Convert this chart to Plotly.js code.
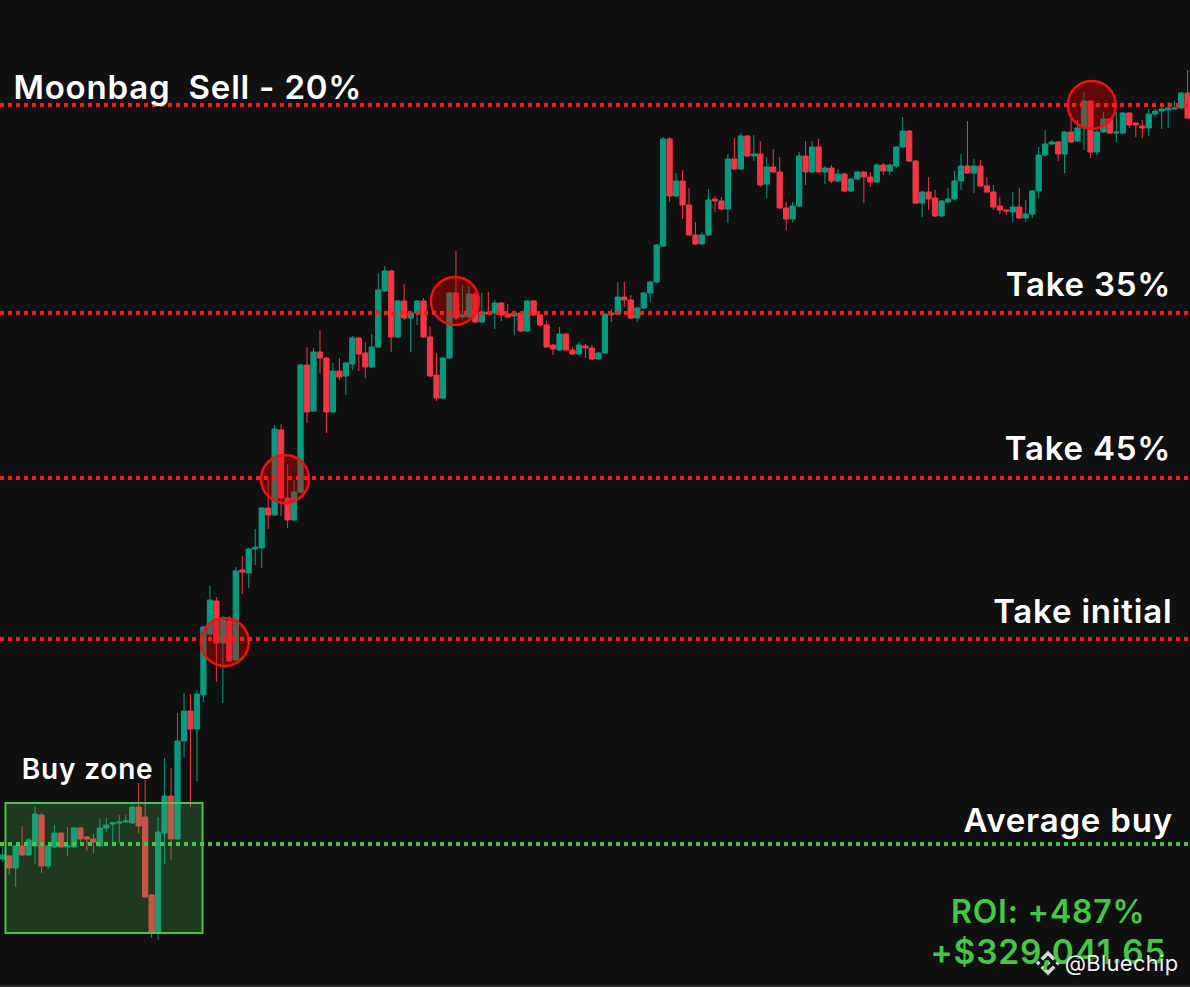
<!DOCTYPE html>
<html>
<head>
<meta charset="utf-8">
<script src="https://cdn.plot.ly/plotly-3.0.1.min.js"></script>
<style>
  html, body { margin: 0; padding: 0; background: #101010; }
  #chart { width: 1190px; height: 987px; }
  #chart .annotation-text { letter-spacing: 0.8px; }
  #chart .annotation[data-index="8"] .annotation-text { letter-spacing: 0.3px; }
</style>
</head>
<body>
<div id="chart"></div>
<script>
// OHLC series, one entry per candle (oldest first)
const openPrice = [
  141,144,132,154,145,154,185,134,153,167,153,153,172,163,161,154,172,176,177,178,
  177,193,183,105,68,167,204,161,259,289,271,305,366,399,357,379,340,430,427,451,
  452,492,485,570,502,480,508,635,589,648,642,588,629,624,636,662,647,633,653,709,
  729,663,699,682,687,699,663,625,602,642,707,683,683,706,678,688,687,697,686,684,
  687,669,699,685,675,655,650,666,650,646,654,652,641,647,687,686,703,700,682,692,
  707,718,754,861,804,819,795,765,756,765,801,799,791,841,831,864,844,846,816,833,
  828,792,781,794,844,828,853,828,832,819,826,809,821,828,823,818,835,829,834,853,
  869,839,797,808,802,784,798,801,819,834,827,834,814,808,794,790,788,793,782,786,
  809,845,856,858,846,868,859,872,899,848,868,881,867,867,887,877,874,872,886,889,
  890,891,892,907
];
const highPrice = [
  155,145,155,174,162,194,187,155,175,168,173,173,173,164,166,181,182,178,185,185,
  194,217,220,106,183,242,232,287,307,306,310,374,414,403,384,384,433,444,452,471,
  493,520,575,576,536,520,636,653,652,670,643,637,642,638,664,663,658,666,726,734,
  730,700,716,688,700,702,674,647,643,708,749,714,714,708,707,708,700,698,696,688,
  688,700,700,686,679,656,673,667,653,658,656,655,648,687,691,718,718,705,693,708,
  719,756,863,863,827,830,812,778,768,811,804,803,846,862,867,865,865,859,843,851,
  843,798,798,848,859,859,861,834,835,831,827,822,829,829,828,837,837,836,854,883,
  870,840,809,823,810,800,812,829,846,879,841,840,823,815,803,791,808,812,800,810,
  853,870,860,859,869,887,880,908,900,870,888,882,888,888,888,878,880,891,891,896,
  898,899,908,930
];
const lowPrice = [
  138,125,113,144,144,136,127,131,152,152,144,152,157,149,147,153,168,157,157,177,
  176,167,102,62,60,136,140,160,243,193,219,298,360,318,297,338,339,406,412,435,
  432,471,484,484,472,479,507,577,588,627,567,587,620,605,630,629,622,632,652,708,
  648,662,680,648,675,662,623,599,601,641,680,681,682,677,677,685,671,679,682,665,
  668,668,684,673,652,645,649,649,645,645,642,640,640,646,678,685,693,681,678,691,
  698,717,753,798,803,781,764,755,755,764,788,790,777,830,830,843,839,813,802,827,
  791,770,778,793,815,827,827,816,817,818,808,808,820,797,813,817,825,825,832,852,
  838,796,783,790,783,783,797,800,810,826,807,813,807,790,786,785,778,781,778,782,
  802,843,855,839,827,857,858,850,842,845,867,866,858,866,872,863,862,864,883,871,
  872,890,891,881
];
const closePrice = [
  145,132,154,145,160,186,134,154,167,153,154,172,161,161,158,172,175,177,178,179,
  193,174,103,68,168,204,161,259,289,271,306,373,400,357,382,339,429,428,451,453,
  492,485,571,502,480,508,635,588,648,642,588,629,623,637,662,646,633,653,710,729,
  663,699,682,687,699,663,624,602,642,707,682,685,706,678,688,686,697,685,683,687,
  669,699,685,675,653,651,666,650,646,655,652,641,647,686,685,703,700,682,692,707,
  718,755,861,804,819,795,765,756,765,800,799,791,841,831,864,844,846,815,833,828,
  792,781,794,844,828,853,828,832,819,826,809,821,828,823,818,835,829,835,853,869,
  839,797,808,801,784,799,801,819,834,827,834,814,808,793,790,789,793,782,786,809,
  845,856,858,846,868,858,872,899,848,868,881,867,868,887,875,875,872,886,889,891,
  892,892,907,882
];
const candleIndex = openPrice.map((_, i) => i);

// Exit plan levels and their captions
const levelLabels = ['Moonbag  Sell - 20%', 'Take 35%', 'Take 45%', 'Take initial', 'Average buy'];
const levelPrices = [895, 687, 522, 361, 156];

// Where each partial sell was filled
const sellIndex = [34.3, 43.6, 69.85, 168.2];
const sellPrice = [358, 521, 699, 895];

// Accumulation range
const buyZoneIndex = [0.43, 30.86];
const buyZonePrice = [67, 197];

const roiText = 'ROI: +487%';
const profitText = '+$329,041.65';

const W = 1190, H = 987;
const px = x => x / W;
const py = y => 1 - y / H;

const RED = '#ff1a1a';
const GREEN = '#45c645';
const FONT = 'Inter, "Noto Sans", sans-serif';

const shapes = [];

// buy zone box
shapes.push({
  type: 'rect', xref: 'x', yref: 'y', layer: 'above',
  x0: buyZoneIndex[0], x1: buyZoneIndex[1], y0: buyZonePrice[0], y1: buyZonePrice[1],
  fillcolor: 'rgba(76,175,80,0.26)',
  line: { color: '#4cc44c', width: 2 }
});

// sell markers
sellIndex.forEach((xi, k) => {
  shapes.push({
    type: 'circle', xref: 'x', yref: 'y', layer: 'above',
    xsizemode: 'pixel', ysizemode: 'pixel',
    xanchor: xi, yanchor: sellPrice[k],
    x0: -24, x1: 24, y0: -24, y1: 24,
    fillcolor: 'rgba(225,0,0,0.38)',
    line: { color: '#f01010', width: 2.5 }
  });
});

// dotted level lines
levelPrices.forEach((p, k) => {
  shapes.push({
    type: 'line', xref: 'paper', yref: 'y', layer: 'above',
    x0: 0, x1: 1, y0: p, y1: p,
    line: { color: k === levelPrices.length - 1 ? GREEN : RED, width: 4, dash: 'dot' }
  });
});

// exchange logo next to the handle
const logoPaths = [
  [[38.73,53.2],[63.32,28.62],[87.92,53.22],[102.22,38.91],[63.32,0],[24.42,38.9]],
  [[0,63.31],[14.3,49],[28.61,63.31],[14.3,77.61]],
  [[38.73,73.41],[63.32,98],[87.92,73.4],[102.23,87.69],[63.33,126.6],[24.42,87.72]],
  [[98,63.31],[112.3,49],[126.61,63.3],[112.3,77.62]],
  [[77.83,63.3],[63.32,48.78],[48.81,63.28],[63.32,77.8]]
];
const logoCx = 1048, logoCy = 963, logoScale = 0.2;
logoPaths.forEach(poly => {
  const d = poly.map((pt, i) => {
    const x = px(logoCx + (pt[0] - 63.3) * logoScale);
    const y = py(logoCy + (pt[1] - 63.3) * logoScale);
    return (i ? 'L' : 'M') + x.toFixed(5) + ',' + y.toFixed(5);
  }).join(' ') + ' Z';
  shapes.push({
    type: 'path', xref: 'paper', yref: 'paper', layer: 'above', path: d,
    fillcolor: '#d8d8d8', line: { color: '#2a2a2a', width: 1 }
  });
});

// bottom edge strip
shapes.push({
  type: 'rect', xref: 'paper', yref: 'paper', layer: 'above',
  x0: 0, x1: 1, y0: 0, y1: py(985),
  fillcolor: '#2a2a2a', line: { width: 0 }
});

const annotations = [];
const labelCenters = [87, 284, 448, 611, 820];
levelLabels.forEach((t, k) => {
  const left = k === 0;
  annotations.push({
    text: t, xref: 'paper', yref: 'paper', showarrow: false,
    x: left ? px(19) : px(1170), xanchor: left ? 'left' : 'right',
    y: py(labelCenters[k]), yanchor: 'middle',
    font: { family: FONT, size: 33, color: '#ffffff', weight: 600 }
  });
});
annotations.push({
  text: 'Buy zone', xref: 'paper', yref: 'paper', showarrow: false,
  x: px(23), xanchor: 'left', y: py(769), yanchor: 'middle',
  font: { family: FONT, size: 28, color: '#ffffff', weight: 600 }
});
annotations.push({
  text: roiText, xref: 'paper', yref: 'paper', showarrow: false,
  x: px(1048), xanchor: 'center', y: py(911), yanchor: 'middle',
  font: { family: FONT, size: 32, color: GREEN, weight: 600 }
});
annotations.push({
  text: profitText, xref: 'paper', yref: 'paper', showarrow: false,
  x: px(1048), xanchor: 'center', y: py(952), yanchor: 'middle',
  font: { family: FONT, size: 33.5, color: GREEN, weight: 600 }
});
annotations.push({
  text: '@Bluechip', xref: 'paper', yref: 'paper', showarrow: false,
  x: px(1064), xanchor: 'left', y: py(963), yanchor: 'middle',
  font: { family: FONT, size: 22, color: '#f0f0f0', shadow: '1px 1px 2px #000' }
});

const trace = {
  type: 'candlestick',
  x: candleIndex,
  open: openPrice, high: highPrice, low: lowPrice, close: closePrice,
  increasing: { line: { color: '#089981', width: 1 }, fillcolor: '#089981' },
  decreasing: { line: { color: '#F23645', width: 1 }, fillcolor: '#F23645' },
  whiskerwidth: 0,
  hoverinfo: 'skip'
};

const layout = {
  width: W, height: H,
  margin: { l: 0, r: 0, t: 0, b: 0, pad: 0 },
  paper_bgcolor: '#101010', plot_bgcolor: '#101010',
  showlegend: false,
  boxgap: 0.1, boxgroupgap: 0.1,
  xaxis: { range: [-0.417, 183.37], visible: false, showgrid: false, zeroline: false,
           rangeslider: { visible: false }, fixedrange: true },
  yaxis: { range: [13, 1000], visible: false, showgrid: false, zeroline: false, fixedrange: true },
  shapes: shapes,
  annotations: annotations
};

Plotly.newPlot('chart', [trace], layout, { staticPlot: true, displayModeBar: false });
</script>
</body>
</html>
